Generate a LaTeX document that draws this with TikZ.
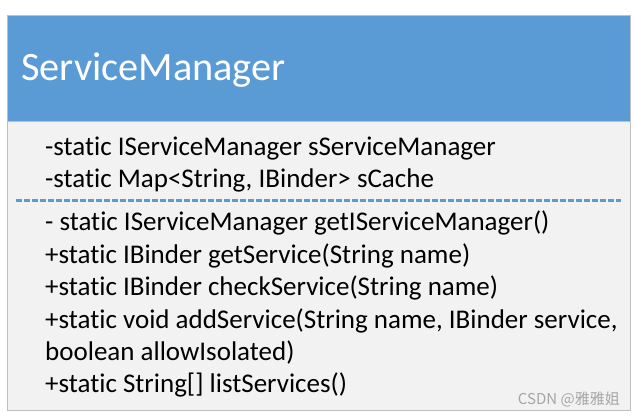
\documentclass[tikz,border=0pt]{standalone}
\usepackage{fontspec}
\setmainfont{Carlito}[Ligatures=NoCommon]
\newfontfamily\cjkfont{Noto Sans CJK SC}
\definecolor{hdrblue}{HTML}{5B9BD5}
\definecolor{bodygray}{HTML}{F2F2F2}
\definecolor{edgegray}{HTML}{C0C0C0}
\definecolor{wmgray}{HTML}{A6A6A6}
\begin{document}
\begin{tikzpicture}[x=1pt,y=-1pt,
  memb/.style={anchor=base west,inner sep=0pt,font=\fontsize{27}{27}\selectfont,text=black},
  ttl/.style={anchor=base west,inner sep=0pt,font=\fontsize{40.3}{40}\selectfont,text=white}]
\useasboundingbox (0,0) rectangle (636,415);
\fill[white] (0,0) rectangle (636,415);
% body and header
\filldraw[fill=bodygray,draw=edgegray,line width=1pt] (7,15) rectangle (630,410);
\filldraw[fill=hdrblue,draw=edgegray,line width=1pt] (7,15) rectangle (630,121);
\node[ttl] (title) at (21,80) {ServiceManager};
% attributes
\node[memb] (a1) at (45,155) {-static IServiceManager sServiceManager};
\node[memb] (a2) at (45,187) {-static Map<String, IBinder> sCache};
% separator
\coordinate (sepL) at (16,200);
\coordinate (sepR) at (621,200);
\draw[hdrblue,line width=3pt,dash pattern=on 5.5pt off 2.5pt] (sepL) -- (sepR);
% operations
\node[memb] (m1) at (45,230) {- static IServiceManager getIServiceManager()};
\node[memb] (m2) at (45,263) {+static IBinder getService(String name)};
\node[memb] (m3) at (45,295) {+static IBinder checkService(String name)};
\node[memb] (m4) at (45,328) {+static void addService(String name, IBinder service,};
\node[memb] (m5) at (45,360) {boolean allowIsolated)};
\node[memb] (m6) at (45,392) {+static String[] listServices()};
% watermark
\node[anchor=base east,inner sep=0pt,text=wmgray,font=\cjkfont\fontsize{15}{15}\selectfont] (wm) at (620,404) {CSDN @雅雅姐};
\end{tikzpicture}
\end{document}
